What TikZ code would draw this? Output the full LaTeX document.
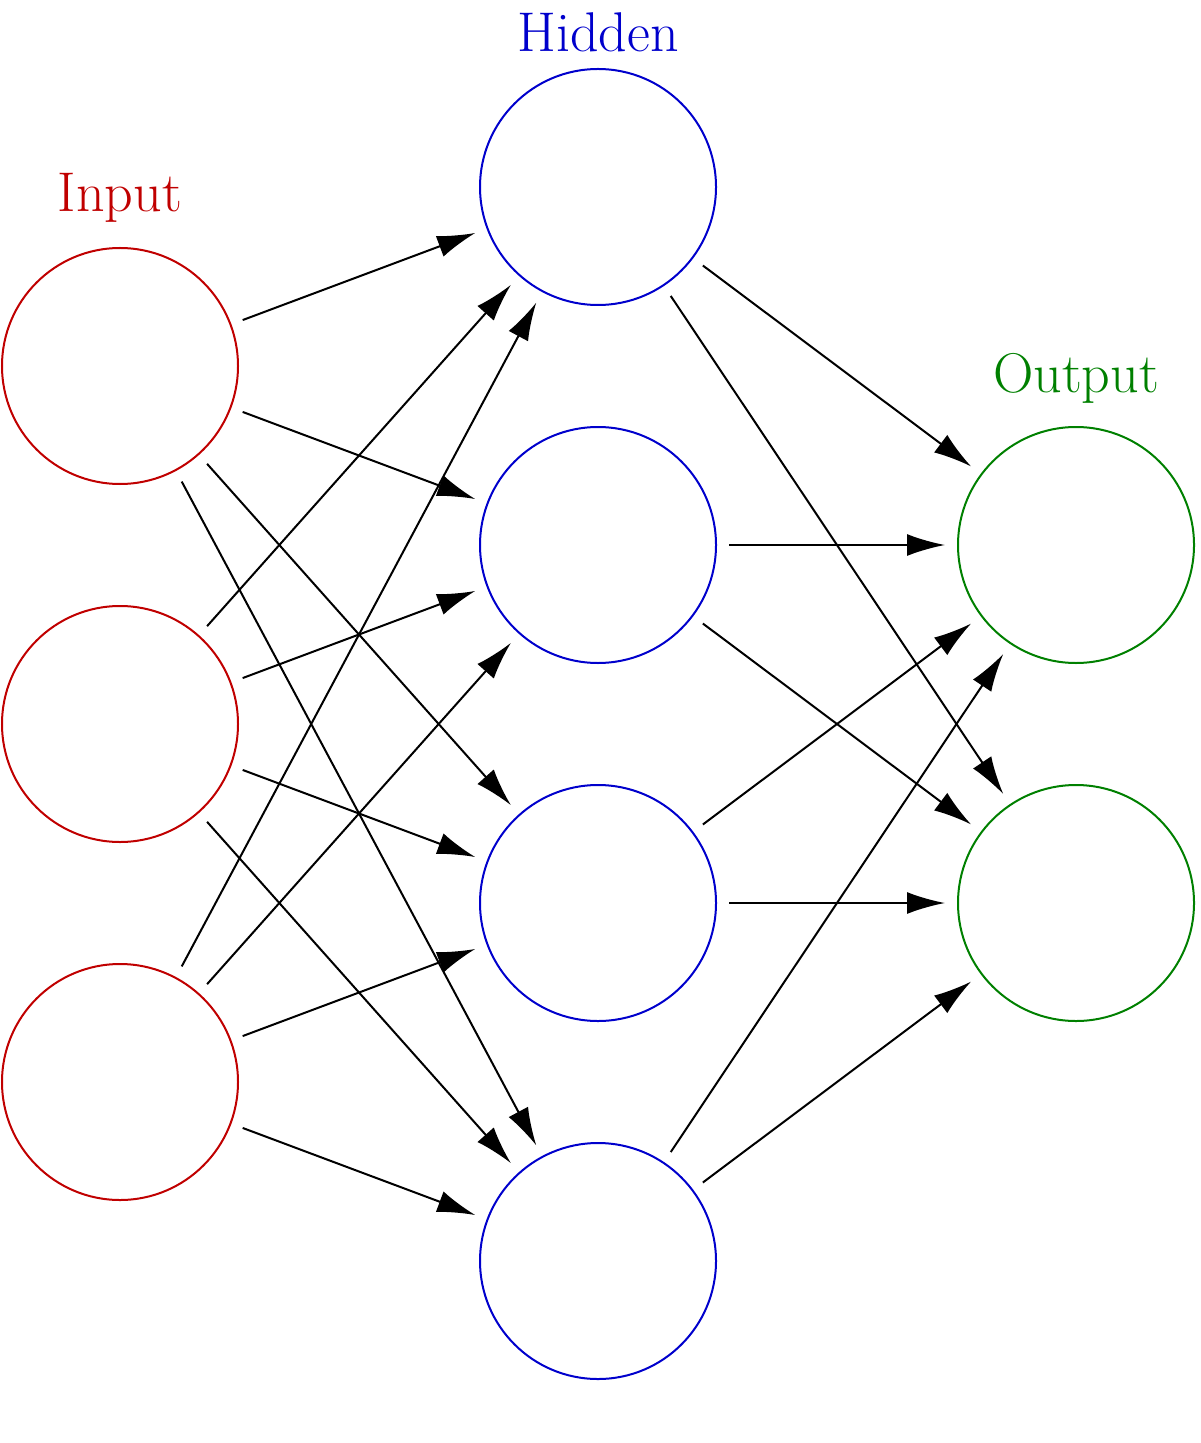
\documentclass[tikz,border=0pt]{standalone}
\usetikzlibrary{arrows.meta}
\definecolor{inred}{RGB}{192,0,0}
\definecolor{hidblue}{RGB}{0,0,204}
\definecolor{outgreen}{RGB}{0,128,0}
\begin{document}
\begin{tikzpicture}[x=0.5pt,y=-0.5pt,
  neuron/.style={circle,draw=#1,line width=1pt,minimum size=118pt,inner sep=0pt},
  conn/.style={line width=1pt,shorten <=6pt,shorten >=6pt,-{Latex[length=19pt,width=11pt]}},
  lbl/.style={font=\fontsize{28}{30}\selectfont,text=#1}]
\useasboundingbox (0,0) rectangle (1200,1443);
\foreach \i/\y in {1/366,2/724,3/1082} \node[neuron=inred] (I\i) at (120,\y) {};
\foreach \i/\y in {1/187,2/545,3/903,4/1261} \node[neuron=hidblue] (H\i) at (598,\y) {};
\foreach \i/\y in {1/545,2/903} \node[neuron=outgreen] (O\i) at (1076,\y) {};
\node[lbl=inred] (li) at (120,198) {Input};
\node[lbl=hidblue] (lh) at (598,32) {Hidden};
\node[lbl=outgreen] (lo) at (1076,378) {Output};
\foreach \i in {1,2,3} \foreach \j in {1,2,3,4} \draw[conn] (I\i) -- (H\j);
\foreach \j in {1,2,3,4} \foreach \k in {1,2} \draw[conn] (H\j) -- (O\k);
\end{tikzpicture}
\end{document}
